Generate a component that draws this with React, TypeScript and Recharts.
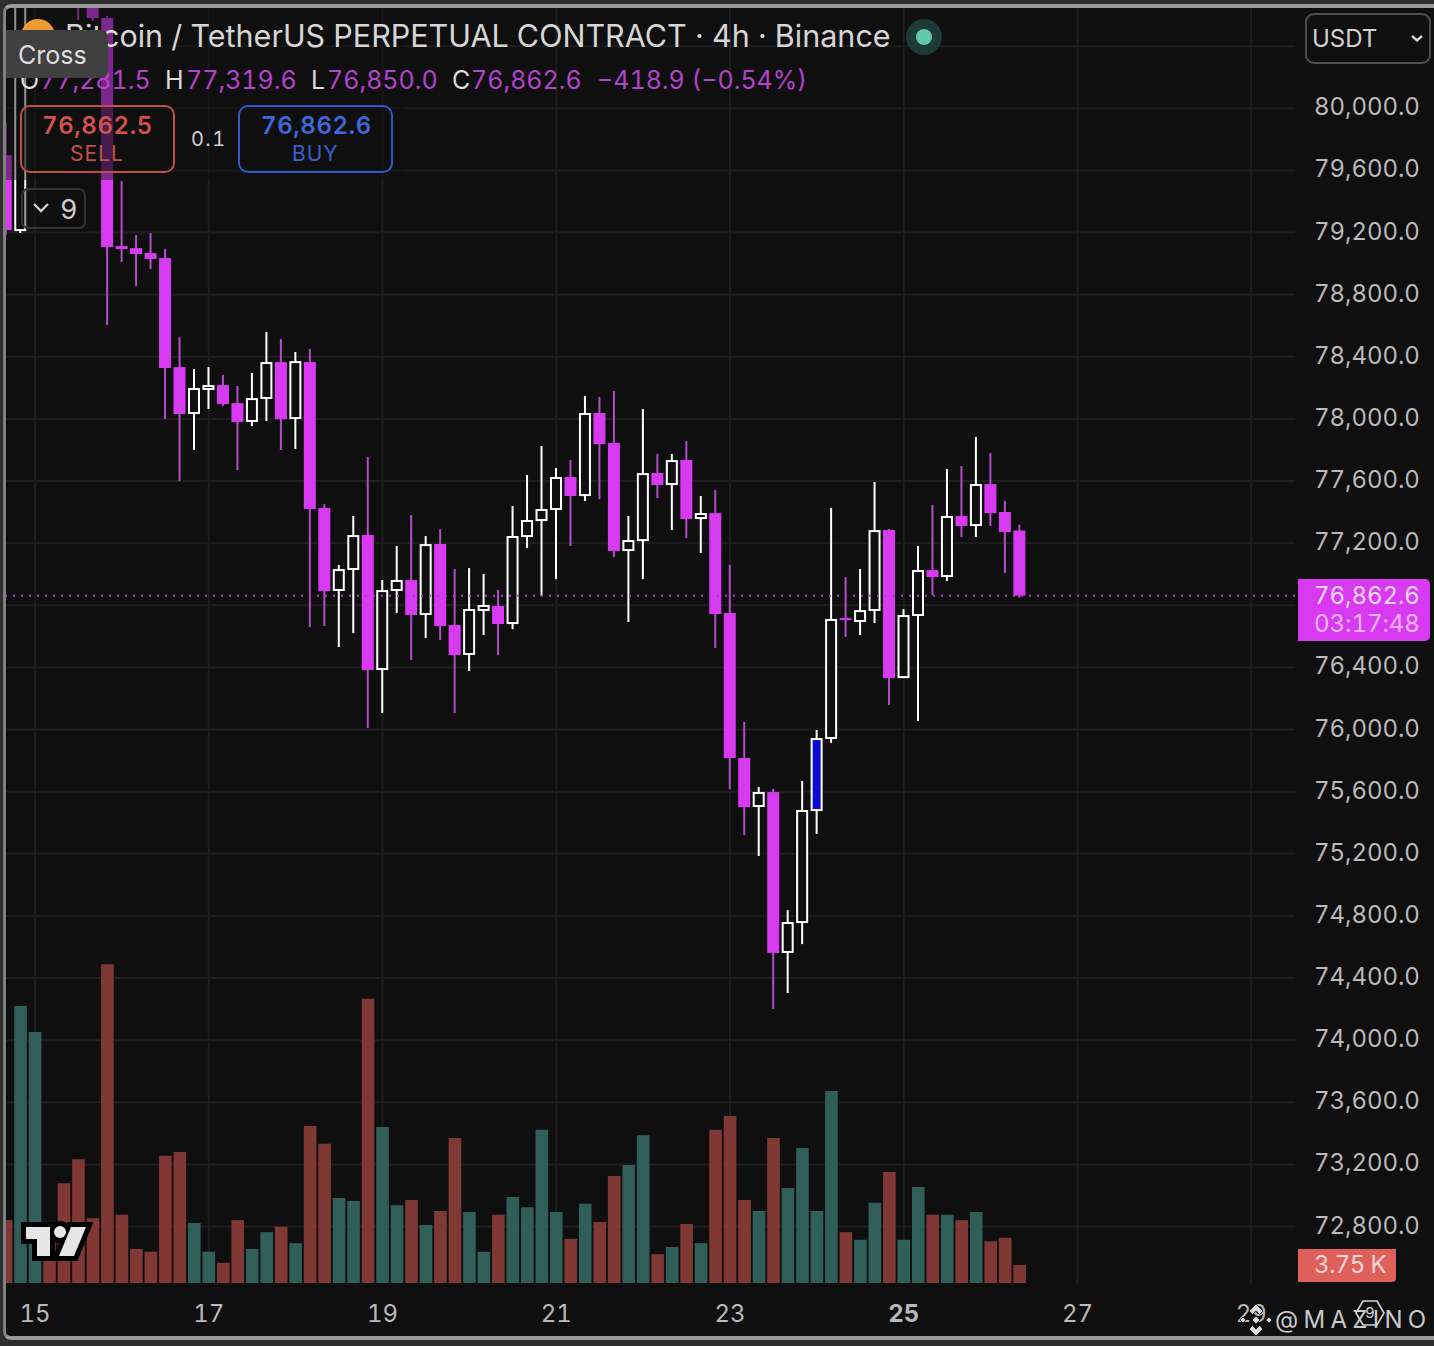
import { Bar, CartesianGrid, Cell, ComposedChart, ReferenceLine, XAxis, YAxis } from 'recharts'

const FIRST_INDEX = -2
const BLUE_INDEX = 54
const LAST_PRICE = 76862.6

const DAY_LABELS = ['15', '17', '19', '21', '23', '25', '27', '29']
const DAY_TICKS = [0, 12, 24, 36, 48, 60, 72, 84]
const PRICE_TICKS = [
  72800, 73200, 73600, 74000, 74400, 74800, 75200, 75600, 76000, 76400, 76800, 77200, 77600, 78000,
  78400, 78800, 79200, 79600, 80000, 80400,
]

const OPEN = [
  79699, 79216, 80800, 81300, 81050, 80900, 80900, 80581, 79113, 79100, 79068, 79036, 78334, 78038, 78193, 78218,
  78102, 77987, 78135, 78366, 78006, 78366, 77427, 76899, 77034, 77253, 76390, 76899, 76963, 76744, 77195, 76673,
  76487, 76770, 76796, 76686, 77246, 77349, 77420, 77626, 77510, 78038, 77845, 77156, 77220, 77652, 77581, 77736,
  77362, 77394, 76751, 75817, 75508, 75598, 74568, 74761, 75482, 75946, 76718, 76699, 76770, 77285, 76338, 76738,
  77027, 76989, 77375, 77317, 77581, 77401, 77281.5,
]
const HIGH = [
  79905, 81100, 81500, 81450, 81150, 81000, 81000, 80594, 79532, 79184, 79197, 79094, 78527, 78321, 78334, 78283,
  78212, 78296, 78560, 78515, 78431, 78450, 77452, 77060, 77375, 77755, 76963, 77182, 77381, 77246, 77291, 77034,
  77040, 77002, 76899, 77439, 77639, 77826, 77684, 77735, 78148, 78141, 78180, 77375, 78064, 77774, 77774, 77858,
  77504, 77542, 77060, 76049, 75630, 75617, 74838, 75669, 75997, 77427, 76982, 77034, 77594, 77291, 76776, 77182,
  77446, 77678, 77697, 77884, 77781, 77472, 77319.6,
]
const LOW = [
  79184, 79197, 80720, 80900, 80750, 80568, 80562, 78605, 79010, 78856, 78965, 78000, 77600, 77800, 78064, 78083,
  77671, 77954, 77987, 77800, 77806, 76660, 76667, 76532, 76622, 76010, 76107, 76751, 76448, 76590, 76577, 76107,
  76377, 76609, 76480, 76647, 77169, 76860, 76969, 77182, 77472, 77484, 77111, 76693, 76969, 77491, 77285, 77233,
  77137, 76525, 75617, 75321, 75186, 74201, 74304, 74619, 75328, 75914, 76596, 76609, 76686, 76158, 76338, 76055,
  76866, 76957, 77240, 77240, 77311, 77008, 76850,
]
const CLOSE = [
  79216, 80900, 81300, 81000, 80850, 80700, 80581, 79107, 79094, 79062, 79030, 78328, 78032, 78193, 78212, 78096,
  77980, 78128, 78360, 77999, 78366, 77420, 76892, 77027, 77246, 76384, 76892, 76957, 76738, 77188, 76667, 76480,
  76770, 76796, 76680, 77240, 77343, 77414, 77620, 77504, 78032, 77838, 77150, 77214, 77645, 77575, 77729, 77356,
  77388, 76744, 75817, 75501, 75592, 74562, 74755, 75476, 75939, 76706, 76706, 76763, 77278, 76332, 76731, 77021,
  76982, 77369, 77311, 77575, 77394, 77272, 76862.6,
]
// volume in thousands
const VOLUME = [
  13.1, 57.7, 52.3, 12.1, 20.8, 25.8, 13.5, 66.4, 14.2, 7.1, 6.5, 26.5, 27.3, 12.5, 6.5, 4.2, 13.1, 7.1, 10.6, 11.7,
  8.3, 32.7, 29.0, 17.7, 17.1, 59.2, 32.5, 16.2, 17.3, 12.1, 15.0, 30.2, 14.8, 6.5, 14.2, 17.9, 15.8, 31.9, 14.8, 9.2,
  16.5, 12.7, 22.3, 24.6, 30.8, 6.0, 7.5, 12.3, 8.3, 31.9, 34.8, 17.3, 15.0, 30.2, 19.8, 28.1, 15.0, 40.0, 10.6, 9.0,
  16.7, 23.1, 9.0, 20.0, 14.2, 14.2, 13.1, 14.8, 8.7, 9.4, 3.75,
]

const BG = '#0f0f10'
const PINK = '#d83af2'
const PINK_WICK = '#b54cca'
const PINK_TEXT = '#b442cc'
const GRID = '#1e1e1f'
const AXIS_TEXT = '#b9b9b9'
const FONT = 'Inter, "Noto Sans", sans-serif'

const rows = OPEN.map((open, i) => ({
  idx: i + FIRST_INDEX,
  open,
  high: HIGH[i],
  low: LOW[i],
  close: CLOSE[i],
  range: [LOW[i], HIGH[i]],
  volume: VOLUME[i],
}))

function CandleShape(props: any) {
  const { x, y, width, height, payload } = props
  const { open, high, low, close, idx } = payload
  const perPrice = height / (high - low)
  const top = y + (high - Math.max(open, close)) * perPrice
  const bottom = y + (high - Math.min(open, close)) * perPrice
  const mid = x + width / 2
  const up = close >= open
  const wick = up ? '#ffffff' : PINK_WICK

  return (
    <g>
      <line x1={mid} x2={mid} y1={y} y2={y + height} stroke={wick} strokeWidth={2} />
      {up ? (
        <rect
          x={x + 1}
          y={top}
          width={width - 2}
          height={Math.max(bottom - top, 1)}
          fill={idx === BLUE_INDEX ? '#0a0ad2' : BG}
          stroke="#ffffff"
          strokeWidth={2}
        />
      ) : (
        <rect x={x} y={top} width={width} height={Math.max(bottom - top, 2)} fill={PINK} />
      )}
    </g>
  )
}

function DayTick({ x, y, payload }: any) {
  const label = DAY_LABELS[DAY_TICKS.indexOf(payload.value)]
  return (
    <text
      x={x}
      y={y + 37}
      textAnchor="middle"
      fill={AXIS_TEXT}
      fontSize={24}
      fontFamily={FONT}
      fontWeight={label === '25' ? 700 : 400}
      style={{ fontVariantNumeric: 'tabular-nums' }}
    >
      {label}
    </text>
  )
}

function PriceTick({ x, y, payload }: any) {
  return (
    <text
      x={x}
      y={y + 7}
      fill={AXIS_TEXT}
      fontSize={24}
      fontFamily={FONT}
      letterSpacing={-0.05}
      style={{ fontVariantNumeric: 'tabular-nums' }}
    >
      {payload.value.toLocaleString('en-US', { minimumFractionDigits: 1 })}
    </text>
  )
}

function Label({ left, top, size, color, children, weight, spacing }: any) {
  return (
    <span
      style={{
        position: 'absolute',
        left,
        top,
        fontSize: size,
        lineHeight: 1,
        color,
        fontWeight: weight ?? 400,
        letterSpacing: spacing ?? 0,
        whiteSpace: 'nowrap',
        fontVariantNumeric: 'tabular-nums',
      }}
    >
      {children}
    </span>
  )
}

function Box({ left, top, width, height, style }: any) {
  return <div style={{ position: 'absolute', left, top, width, height, boxSizing: 'border-box', ...style }} />
}

function Overlays() {
  return (
    <div style={{ position: 'absolute', inset: 0, fontFamily: FONT, pointerEvents: 'none' }}>
      {/* legend backdrop dims the candles behind it */}
      <Box left={6} top={8} width={400} height={172} style={{ background: 'rgba(15,15,16,0.45)' }} />

      <Box left={21} top={19} width={34} height={34} style={{ background: '#ee9a35', borderRadius: '50%' }} />
      <Label left={65} top={21} size={30.5} color="#d6d6d6">
        Bitcoin / TetherUS PERPETUAL CONTRACT · 4h · Binance
      </Label>
      <Box left={906} top={19} width={36} height={36} style={{ background: '#1d3a37', borderRadius: '50%' }} />
      <Box left={916} top={29} width={16} height={16} style={{ background: '#62c7ab', borderRadius: '50%' }} />

      <Label left={20} top={68} size={25} color="#dcdcdc">O</Label>
      <Label left={40} top={68} size={25} color={PINK_TEXT}>77,281.5</Label>
      <Label left={165} top={68} size={25} color="#dcdcdc">H</Label>
      <Label left={186} top={68} size={25} color={PINK_TEXT}>77,319.6</Label>
      <Label left={311} top={68} size={25} color="#dcdcdc">L</Label>
      <Label left={327} top={68} size={25} color={PINK_TEXT}>76,850.0</Label>
      <Label left={452} top={68} size={25} color="#dcdcdc">C</Label>
      <Label left={471} top={68} size={25} color={PINK_TEXT}>76,862.6</Label>
      <Label left={597} top={68} size={25} color={PINK_TEXT}>−418.9 (−0.54%)</Label>

      <Box left={0} top={30} width={108} height={48} style={{ background: '#404041', borderRadius: 7 }} />
      <Label left={18} top={43} size={25} color="#dedede">Cross</Label>

      <Box left={20} top={105} width={155} height={68} style={{ border: '2px solid #c14e48', borderRadius: 10, background: 'rgba(15,15,16,0.5)' }} />
      <Label left={42} top={114} size={24} color="#cf534c" weight={600} spacing={0.6}>76,862.5</Label>
      <Label left={70} top={143} size={21} color="#c2504a" spacing={1}>SELL</Label>
      <Label left={191} top={129} size={20} color="#cfcfcf" spacing={1.4}>0.1</Label>
      <Box left={238} top={105} width={155} height={68} style={{ border: '2px solid #3558c8', borderRadius: 10, background: 'rgba(15,15,16,0.5)' }} />
      <Label left={261} top={114} size={24} color="#3f67da" weight={600} spacing={0.6}>76,862.6</Label>
      <Label left={292} top={143} size={21} color="#3a5fc9" spacing={1}>BUY</Label>

      <Box left={21} top={188} width={65} height={41} style={{ border: '2px solid #333334', borderRadius: 7, background: 'rgba(15,15,16,0.4)' }} />
      <svg style={{ position: 'absolute', left: 32, top: 202 }} width={18} height={12}>
        <path d="M2 2 L9 9 L16 2" fill="none" stroke="#d0d0d0" strokeWidth={2.4} />
      </svg>
      <Label left={60} top={196} size={27} color="#cfcfcf">9</Label>

      {/* price scale widgets */}
      <Box left={1305} top={13} width={126} height={51} style={{ background: BG, border: '2px solid #4e4e4f', borderRadius: 9 }} />
      <Label left={1312} top={27} size={24} color="#d2d2d2">USDT</Label>
      <svg style={{ position: 'absolute', left: 1410, top: 34 }} width={14} height={9}>
        <path d="M2 2 L7 6.5 L12 2" fill="none" stroke="#d8d8d8" strokeWidth={2.4} />
      </svg>

      <Box left={1298} top={579} width={132} height={62} style={{ background: PINK, borderRadius: '0 5px 5px 0' }} />
      <Label left={1314} top={584} size={24} color="#f6d8fb" spacing={-0.05}>76,862.6</Label>
      <Label left={1314} top={612} size={24} color="#f3b6fa" spacing={-0.05}>03:17:48</Label>

      <Box left={1298} top={1249} width={98} height={33} style={{ background: '#df5f5b', borderRadius: '0 0 4px 0' }} />
      <Label left={1314} top={1253} size={24} color="#f5d6d3" spacing={-0.6}>3.75 K</Label>

      {/* TradingView mark */}
      <svg style={{ position: 'absolute', left: 20, top: 1218 }} width={74} height={46} viewBox="20 1218 74 46">
        <g stroke="#000000" strokeWidth={10} strokeLinejoin="miter" fill="#000000">
          <path d="M26 1227 H50 V1256 H37 V1239 H26 Z" />
          <path d="M71 1227 H86 L74 1256 H59 Z" />
          <circle cx={60} cy={1232} r={6} />
        </g>
        <g fill="#e6e6e7">
          <path d="M26 1227 H50 V1256 H37 V1239 H26 Z" />
          <path d="M71 1227 H86 L74 1256 H59 Z" />
          <circle cx={60} cy={1232} r={6} />
        </g>
      </svg>

      {/* watermark */}
      <svg style={{ position: 'absolute', left: 1236, top: 1300 }} width={40} height={40} viewBox="0 0 40 40">
        <g fill="#d8d8d8" stroke="#0f0f10" strokeWidth={0.8}>
          <path d="M20 4 L27 11 L23.5 14.5 L20 11 L16.5 14.5 L13 11 Z" />
          <path d="M20 36 L27 29 L23.5 25.5 L20 29 L16.5 25.5 L13 29 Z" />
          <path d="M20 16 L24 20 L20 24 L16 20 Z" />
          <path d="M7 17 L10 20 L7 23 L4 20 Z" />
          <path d="M33 17 L36 20 L33 23 L30 20 Z" />
        </g>
      </svg>
      <Label left={1275} top={1308} size={24} color="#c8c8c8" spacing={5.3}>@MAZINO</Label>
      <svg style={{ position: 'absolute', left: 1354, top: 1298 }} width={32} height={32} viewBox="0 0 32 32">
        <path d="M9 3 H23 L30 15 L23 27 H9 L2 15 Z" fill="none" stroke="#d6d6d6" strokeWidth={1.6} />
        <text x={16} y={20} textAnchor="middle" fontSize={15} fill="#d6d6d6" fontFamily={FONT}>9</text>
      </svg>

      {/* screenshot frame */}
      <Box
        left={3}
        top={4}
        width={1460}
        height={1336}
        style={{ border: '4px solid #9a9a9a', borderLeftWidth: 3, borderLeftColor: '#808080', borderRadius: 8, boxShadow: '0 0 0 12px #2e2e2f' }}
      />
    </div>
  )
}

export default function App() {
  return (
    <div style={{ position: 'fixed', left: 0, top: 0, width: 1434, height: 1346, overflow: 'hidden', background: BG }}>
      <ComposedChart width={1434} height={1346} data={rows} margin={{ top: 8, right: 0, bottom: 0, left: 6 }}>
        <CartesianGrid xAxisId="price" yAxisId="price" stroke={GRID} strokeWidth={2} syncWithTicks />
        <XAxis
          xAxisId="price"
          dataKey="idx"
          type="number"
          domain={[-2, 87.02]}
          ticks={DAY_TICKS}
          interval={0}
          height={63}
          tickSize={0}
          tickLine={false}
          axisLine={false}
          tick={<DayTick />}
        />
        <XAxis xAxisId="volume" dataKey="idx" type="number" domain={[-2, 87.02]} hide />
        <YAxis
          yAxisId="price"
          orientation="right"
          domain={[72437, 80646]}
          allowDataOverflow
          ticks={PRICE_TICKS}
          interval={0}
          width={139}
          tickSize={0}
          tickMargin={19}
          tickLine={false}
          axisLine={false}
          tick={<PriceTick />}
        />
        <YAxis yAxisId="volume" domain={[0, 265.6]} hide />
        <Bar xAxisId="volume" yAxisId="volume" dataKey="volume" barSize={12.6} isAnimationActive={false}>
          {rows.map((row) => (
            <Cell key={row.idx} fill={row.close >= row.open ? '#305f5a' : '#803835'} />
          ))}
        </Bar>
        <ReferenceLine
          xAxisId="price"
          yAxisId="price"
          y={LAST_PRICE}
          stroke="#a63fbd"
          strokeWidth={2}
          strokeDasharray="2 6"
        />
        <Bar
          xAxisId="price"
          yAxisId="price"
          dataKey="range"
          barSize={12}
          shape={<CandleShape />}
          isAnimationActive={false}
        />
      </ComposedChart>
      <Overlays />
    </div>
  )
}
